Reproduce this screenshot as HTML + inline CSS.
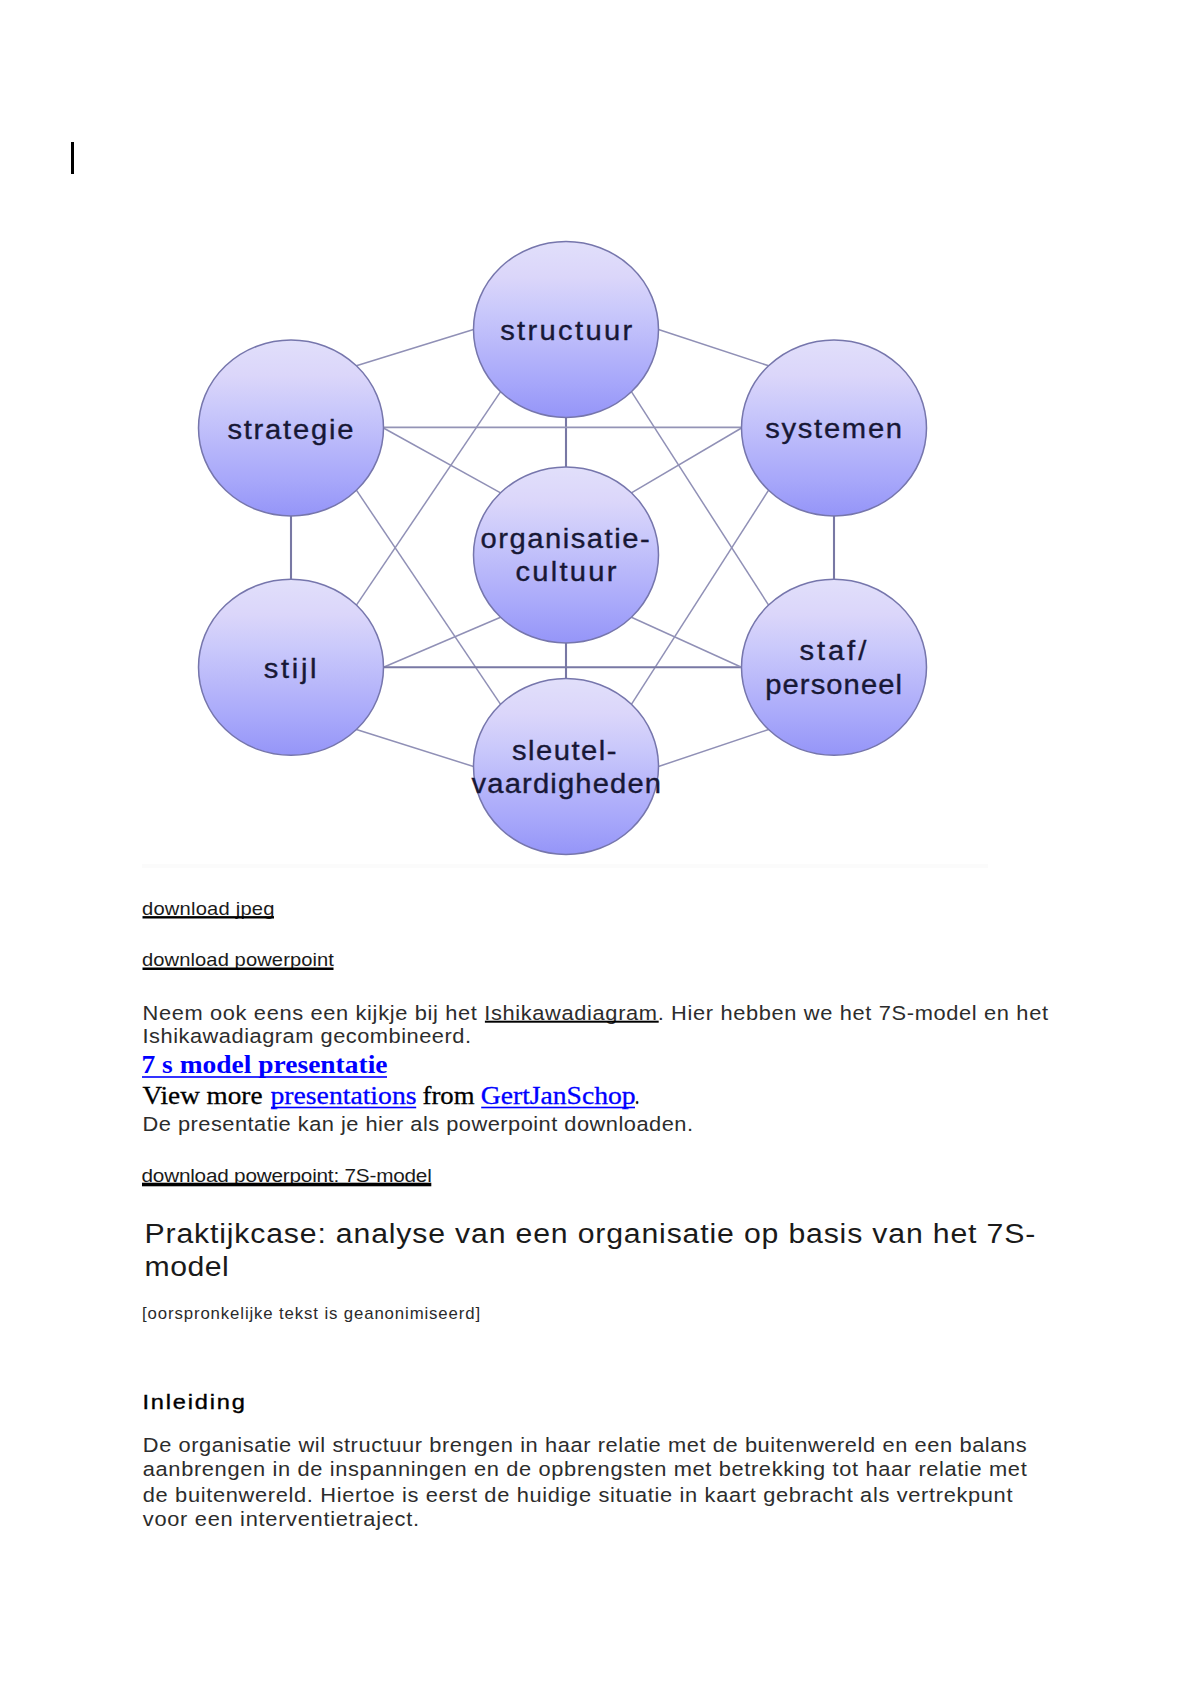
<!DOCTYPE html>
<html><head><meta charset="utf-8"><title>7S-model</title>
<style>
html,body{margin:0;padding:0;background:#fff;width:1200px;height:1696px;overflow:hidden}
svg{position:absolute;left:0;top:0;display:block}
.lab{font-family:"Liberation Sans",sans-serif;font-size:27px;fill:#181836;stroke:#181836;stroke-width:0.35px}
.sm{font-family:"Liberation Sans",sans-serif;font-size:18px;fill:#1a1a1a}
.sm2{font-family:"Liberation Sans",sans-serif;font-size:19.2px;fill:#1a1a1a}
.bd{font-family:"Liberation Sans",sans-serif;font-size:19.5px;fill:#2c2c2c}
.xs{font-family:"Liberation Sans",sans-serif;font-size:16px;fill:#2a2a2a}
.h2{font-family:"Liberation Sans",sans-serif;font-size:27px;fill:#1a1a1a}
.h3{font-family:"Liberation Sans",sans-serif;font-size:20px;font-weight:normal;fill:#000;stroke:#000;stroke-width:0.35px}
.tb{font-family:"Liberation Serif",serif;font-size:25px;font-weight:bold;fill:#0000ff}
.tr{font-family:"Liberation Serif",serif;font-size:25px;fill:#000;stroke:#000;stroke-width:0.3px}
.trl{font-family:"Liberation Serif",serif;font-size:25px;fill:#0000ff;stroke:#0000ff;stroke-width:0.3px}
</style></head>
<body>
<svg width="1200" height="1696" viewBox="0 0 1200 1696">
<defs>
<linearGradient id="g" x1="0" y1="0" x2="0" y2="1">
<stop offset="0" stop-color="#e1dffa"/>
<stop offset="0.2" stop-color="#dbd6fa"/>
<stop offset="0.4" stop-color="#c9c8fb"/>
<stop offset="0.6" stop-color="#b8b7fa"/>
<stop offset="0.8" stop-color="#a7a7fa"/>
<stop offset="1" stop-color="#9595f8"/>
</linearGradient>
</defs>
<rect x="71" y="142" width="3" height="32" fill="#000"/>
<rect x="142" y="864" width="846" height="4" fill="#fbfbfb"/>
<g stroke="#9090b6" stroke-width="1.5" fill="none">
<line x1="356.4" y1="365.8" x2="473.5" y2="329.5"/>
<line x1="658.5" y1="329.5" x2="768.6" y2="365.8"/>
<line x1="566.0" y1="417.5" x2="566.0" y2="467.0" stroke="#7878a4" stroke-width="2.1"/>
<line x1="383.5" y1="427.3" x2="741.5" y2="427.3" stroke="#9494b6" stroke-width="1.8"/>
<line x1="383.5" y1="428.0" x2="500.6" y2="492.8"/>
<line x1="291.0" y1="516.0" x2="291.0" y2="579.3" stroke="#7878a4" stroke-width="2.1"/>
<line x1="356.4" y1="490.2" x2="500.6" y2="704.3"/>
<line x1="500.6" y1="391.7" x2="356.4" y2="605.1"/>
<line x1="631.4" y1="391.7" x2="768.6" y2="605.1"/>
<line x1="741.5" y1="428.0" x2="631.4" y2="492.8"/>
<line x1="834.0" y1="516.0" x2="834.0" y2="579.3" stroke="#7878a4" stroke-width="2.1"/>
<line x1="768.6" y1="490.2" x2="631.4" y2="704.3"/>
<line x1="383.5" y1="667.3" x2="500.6" y2="617.2"/>
<line x1="383.5" y1="667.3" x2="741.5" y2="667.3" stroke="#7878a4" stroke-width="2.1"/>
<line x1="356.4" y1="729.5" x2="473.5" y2="766.5"/>
<line x1="741.5" y1="667.3" x2="631.4" y2="617.2"/>
<line x1="768.6" y1="729.5" x2="658.5" y2="766.5"/>
<line x1="566.0" y1="643.0" x2="566.0" y2="678.5" stroke="#7878a4" stroke-width="2.1"/>
</g>
<g fill="url(#g)" stroke="#7676ac" stroke-width="1.5">
<ellipse cx="566.0" cy="329.5" rx="92.5" ry="88.0"/>
<ellipse cx="291.0" cy="428.0" rx="92.5" ry="88.0"/>
<ellipse cx="834.0" cy="428.0" rx="92.5" ry="88.0"/>
<ellipse cx="566.0" cy="555.0" rx="92.5" ry="88.0"/>
<ellipse cx="291.0" cy="667.3" rx="92.5" ry="88.0"/>
<ellipse cx="834.0" cy="667.3" rx="92.5" ry="88.0"/>
<ellipse cx="566.0" cy="766.5" rx="92.5" ry="88.0"/>
</g>
<g class="lab">
<text transform="translate(500.2 340.0) scale(1.080 1)" textLength="122.2" lengthAdjust="spacing">structuur</text>
<text transform="translate(227.4 438.5) scale(1.080 1)" textLength="116.7" lengthAdjust="spacing">strategie</text>
<text transform="translate(765.2 437.6) scale(1.080 1)" textLength="126.7" lengthAdjust="spacing">systemen</text>
<text transform="translate(480.4 547.5) scale(1.080 1)" textLength="156.7" lengthAdjust="spacing">organisatie-</text>
<text transform="translate(515.4 580.8) scale(1.080 1)" textLength="93.5" lengthAdjust="spacing">cultuur</text>
<text transform="translate(263.8 677.6) scale(1.080 1)" textLength="48.9" lengthAdjust="spacing">stijl</text>
<text transform="translate(799.4 660.0) scale(1.080 1)" textLength="61.9" lengthAdjust="spacing">staf/</text>
<text transform="translate(765.2 694.2) scale(1.080 1)" textLength="126.7" lengthAdjust="spacing">personeel</text>
<text transform="translate(511.9 759.5) scale(1.080 1)" textLength="96.8" lengthAdjust="spacing">sleutel-</text>
<text transform="translate(471.6 792.8) scale(1.080 1)" textLength="175.4" lengthAdjust="spacing">vaardigheden</text>
</g>
<g>
<text class="sm" transform="translate(142.0 914.8) scale(1.120 1)" textLength="118.3" lengthAdjust="spacing">download jpeg</text>
<text class="sm" transform="translate(142.0 965.5) scale(1.120 1)" textLength="171.4" lengthAdjust="spacing">download powerpoint</text>
<text class="bd" transform="translate(142.5 1020.0) scale(1.120 1)" textLength="808.5" lengthAdjust="spacing">Neem ook eens een kijkje bij het Ishikawadiagram. Hier hebben we het 7S-model en het</text>
<text class="bd" transform="translate(142.5 1042.5) scale(1.120 1)" textLength="293.3" lengthAdjust="spacing">Ishikawadiagram gecombineerd.</text>
<text class="tb" transform="translate(141.5 1072.5) scale(1.000 1)" textLength="246.0" lengthAdjust="spacingAndGlyphs">7 s model presentatie</text>
<text class="tr" transform="translate(142.5 1103.8) scale(1.000 1)" textLength="120.0" lengthAdjust="spacingAndGlyphs">View more</text>
<text class="trl" transform="translate(270.5 1103.8) scale(1.000 1)" textLength="146.0" lengthAdjust="spacingAndGlyphs">presentations</text>
<text class="tr" transform="translate(422.5 1103.8) scale(1.000 1)" textLength="52.0" lengthAdjust="spacingAndGlyphs">from</text>
<text class="trl" transform="translate(480.8 1103.8) scale(1.000 1)" textLength="154.8" lengthAdjust="spacingAndGlyphs">GertJanSchop</text>
<text class="tr" transform="translate(635.0 1103.8) scale(1.000 1)" textLength="4.2" lengthAdjust="spacingAndGlyphs">.</text>
<text class="bd" transform="translate(142.5 1130.8) scale(1.120 1)" textLength="491.5" lengthAdjust="spacing">De presentatie kan je hier als powerpoint downloaden.</text>
<text class="sm2" transform="translate(141.5 1182.0) scale(1.080 1)" textLength="268.8" lengthAdjust="spacing">download powerpoint: 7S-model</text>
<text class="h2" transform="translate(144.5 1243.0) scale(1.120 1)" textLength="795.3" lengthAdjust="spacing">Praktijkcase: analyse van een organisatie op basis van het 7S-</text>
<text class="h2" transform="translate(144.5 1276.3) scale(1.120 1)" textLength="75.3" lengthAdjust="spacing">model</text>
<text class="xs" transform="translate(142.1 1319.0) scale(1.050 1)" textLength="321.9" lengthAdjust="spacing">[oorspronkelijke tekst is geanonimiseerd]</text>
<text class="h3" transform="translate(142.5 1408.7) scale(1.180 1)" textLength="86.8" lengthAdjust="spacing">Inleiding</text>
<text class="bd" transform="translate(142.8 1452.0) scale(1.120 1)" textLength="789.2" lengthAdjust="spacing">De organisatie wil structuur brengen in haar relatie met de buitenwereld en een balans</text>
<text class="bd" transform="translate(142.8 1476.0) scale(1.120 1)" textLength="789.2" lengthAdjust="spacing">aanbrengen in de inspanningen en de opbrengsten met betrekking tot haar relatie met</text>
<text class="bd" transform="translate(142.8 1501.7) scale(1.120 1)" textLength="776.5" lengthAdjust="spacing">de buitenwereld. Hiertoe is eerst de huidige situatie in kaart gebracht als vertrekpunt</text>
<text class="bd" transform="translate(142.8 1526.0) scale(1.120 1)" textLength="246.6" lengthAdjust="spacing">voor een interventietraject.</text>
</g>
<g>
<rect x="142.5" y="916.1" width="131.5" height="2.4" fill="#000"/>
<rect x="142.5" y="967.5" width="191.0" height="2.5" fill="#000"/>
<rect x="484.9" y="1020.7" width="173.8" height="2.0" fill="#000"/>
<rect x="142.0" y="1076.2" width="245.0" height="1.6" fill="#0000ff"/>
<rect x="271.0" y="1106.7" width="145.2" height="1.6" fill="#0000ff"/>
<rect x="481.2" y="1106.7" width="153.8" height="1.6" fill="#0000ff"/>
<rect x="142.0" y="1182.7" width="289.3" height="3.6" fill="#000"/>
</g>
</svg>
</body></html>
